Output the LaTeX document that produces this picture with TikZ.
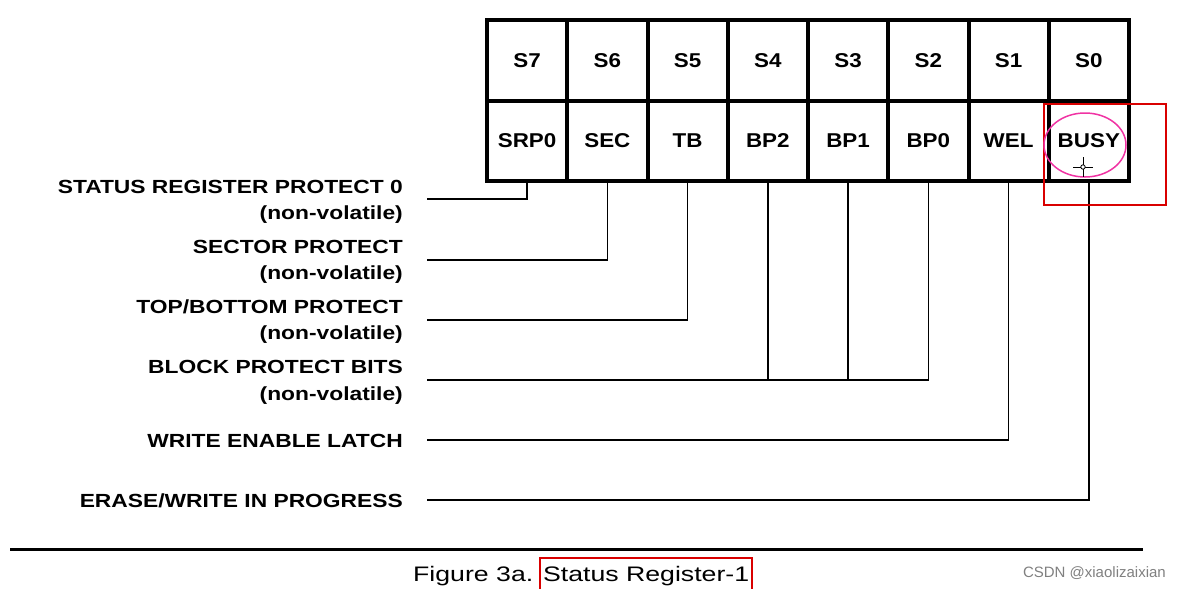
\documentclass[tikz,border=0pt]{standalone}
\usepackage{fontspec}
\setmainfont{Liberation Sans}
\begin{document}
\begin{tikzpicture}[x=1pt,y=-1pt,
  lbl/.style={anchor=east,font=\fontsize{19}{20}\selectfont\bfseries,inner sep=0pt},
  cell/.style={font=\fontsize{20}{22}\selectfont\bfseries},
  lead/.style={line width=1.6pt}]
\useasboundingbox (0,0) rectangle (1179,589);
\newcommand{\wide}[1]{\scalebox{1.2}[1]{#1}}
\newcommand{\cwide}[1]{\scalebox{1.12}[1]{#1}}
% grid
\foreach \i/\t/\b in {0/S7/SRP0,1/S6/SEC,2/S5/TB,3/S4/BP2,4/S3/BP1,5/S2/BP0,6/S1/WEL,7/S0/BUSY}{
  \node[cell] (t\i) at ({487+80.25*\i+40.1},60.5) {\cwide{\t}};
  \node[cell] (b\i) at ({487+80.25*\i+40.1},141) {\cwide{\b}};
  \coordinate (s\i) at ({487+80.25*\i+40.1},181);
}
\draw[line width=4pt] (487,20) rectangle (1129,181);
\draw[line width=4pt] (487,101) -- (1129,101);
\foreach \i in {1,...,7}{\draw[line width=4pt] ({487+80.25*\i},20) -- ({487+80.25*\i},181);}
% labels
\node[lbl] (l0) at (403,187) {\wide{STATUS REGISTER PROTECT 0}};
\node[lbl] (n0) at (403,215) {\wide{(non-volatile)}};
\node[lbl] (l1) at (403,247) {\wide{SECTOR PROTECT}};
\node[lbl] (n1) at (403,275) {\wide{(non-volatile)}};
\node[lbl] (l2) at (403,307) {\wide{TOP/BOTTOM PROTECT}};
\node[lbl] (n2) at (403,335) {\wide{(non-volatile)}};
\node[lbl] (l3) at (403,367) {\wide{BLOCK PROTECT BITS}};
\node[lbl] (n3) at (403,396) {\wide{(non-volatile)}};
\node[lbl] (l4) at (403,441) {\wide{WRITE ENABLE LATCH}};
\node[lbl] (l5) at (403,501) {\wide{ERASE/WRITE IN PROGRESS}};
% leads
\coordinate (e0) at (427,199);
\coordinate (e1) at (427,260);
\coordinate (e2) at (427,320);
\coordinate (e3) at (427,380);
\coordinate (e4) at (427,440);
\coordinate (e5) at (427,500);
\draw[lead] (s0) |- (e0);
\draw[lead] (s1) |- (e1);
\draw[lead] (s2) |- (e2);
\draw[lead] (s5) |- (e3);
\draw[lead] (s3) -- (s3 |- e3);
\draw[lead] (s4) -- (s4 |- e3);
\draw[lead] (s6) |- (e4);
\draw[lead] (s7) |- (e5);
% bottom rule and caption
\coordinate (r0) at (10,549); \coordinate (r1) at (1143,549);
\draw[line width=3pt] (r0) -- (r1);
\node[anchor=west,inner sep=0pt,font=\fontsize{21}{22}\selectfont] (cap) at (413,576) {\scalebox{1.27}[1]{Figure 3a. Status Register-1}};
\draw[red!85!black,line width=1.5pt] (540,589) -- (540,558) -- (752,558) -- (752,589);
% annotations
\draw[red!85!black,line width=1.5pt] (1044,104) rectangle (1166,205);
\draw[magenta!80,line width=1.5pt] (1085,145) ellipse [x radius=41,y radius=32];
\draw[line width=0.8pt] (1073,167) -- (1093,167) (1083,157) -- (1083,177);
\draw[line width=0.8pt,fill=white] (1083,167) circle (2.2);
\node[anchor=east,inner sep=0pt,text=gray,font=\fontsize{15}{16}\selectfont] (wm) at (1166,573) {CSDN @xiaolizaixian};
\end{tikzpicture}
\end{document}
